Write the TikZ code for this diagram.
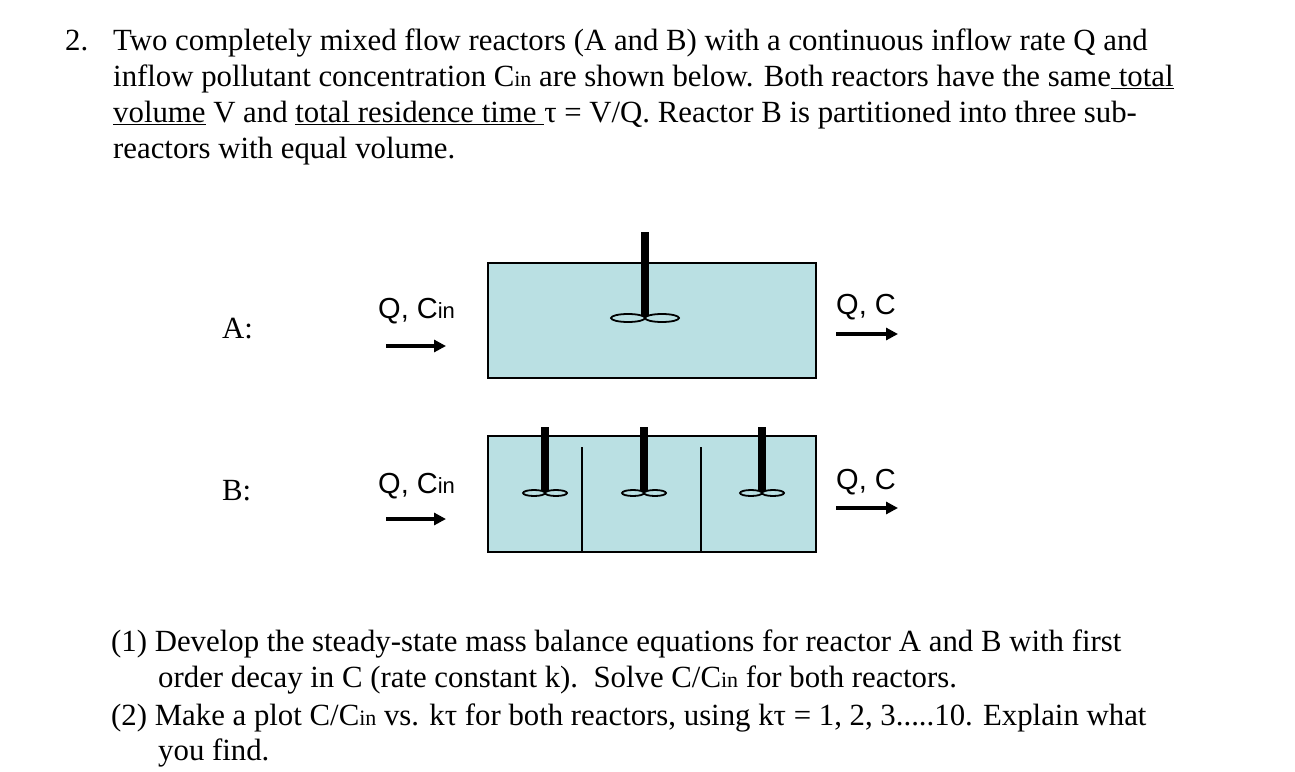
\documentclass[tikz,border=0pt]{standalone}
\usepackage{fontspec}
\setmainfont{Liberation Serif}
\newfontfamily\arialf{Liberation Sans}
\usetikzlibrary{arrows.meta}
\newcommand{\ssin}{{\fontsize{22}{22}\selectfont in}}
\newcommand{\asin}{{\fontsize{22}{22}\selectfont in}}
\begin{document}
\begin{tikzpicture}[x=1pt,y=-1pt,
  txt/.style={anchor=base west,inner sep=0pt,font=\fontsize{30.8}{36}\selectfont},
  lab/.style={anchor=base west,inner sep=0pt,font=\arialf\fontsize{29}{34}\selectfont},
  tank/.style={draw=black,line width=2.5pt,fill={rgb,255:red,186;green,224;blue,227}},
  shaft/.style={line width=8pt},
  blade/.style={draw=black,line width=1.8pt,fill={rgb,255:red,186;green,224;blue,227}},
  flow/.style={line width=3.5pt,-{Triangle[length=12pt,width=12pt]}}]
\useasboundingbox (0,0) rectangle (1295,771);
% text
\node[txt] (n2) at (65,50) {2.};
\node[txt] (l1) at (113,50) {Two completely mixed flow reactors (A and B) with a continuous inflow rate Q and};
\node[txt] (l2) at (113,86) {inflow pollutant concentration C\ssin{} are shown below. Both reactors have the same\underline{ total}};
\node[txt] (l3) at (113,122) {\underline{volume} V and \underline{total residence time }τ = V/Q. Reactor B is partitioned into three sub-};
\node[txt] (l4) at (113,158) {reactors with equal volume.};
\node[txt] (q1) at (111,651) {(1) Develop the steady-state mass balance equations for reactor A and B with first};
\node[txt] (q1b) at (158,687) {order decay in C (rate constant k).\ \ Solve C/C\ssin{} for both reactors.};
\node[txt] (q2) at (111,725) {(2) Make a plot C/C\ssin{} vs. kτ for both reactors, using kτ = 1, 2, 3.....10. Explain what};
\node[txt] (q2b) at (158,760) {you find.};
\node[txt] (la) at (222,338) {A:};
\node[txt] (lb) at (222,500) {B:};
% tank A
\draw[tank] (488,263) rectangle (816,378);
\draw[shaft] (645,232) -- (645,318);
\draw[blade] (628,318) ellipse (17 and 4);
\draw[blade] (662,318) ellipse (17 and 4);
% tank B
\draw[tank] (488,436) rectangle (816,552);
\draw[line width=1.3pt] (582,447) -- (582,552);
\draw[line width=1.3pt] (701,447) -- (701,552);
\foreach \x in {545,644,762}{
  \draw[shaft] (\x,427) -- (\x,493);
  \draw[blade] (\x-11,493) ellipse (11 and 3);
  \draw[blade] (\x+11,493) ellipse (11 and 3);
}
% labels and arrows
\node[lab] (qa) at (378,318) {Q, C\asin};
\coordinate (a1) at (386,346); \coordinate (a2) at (446,346);
\draw[flow] (a1) -- (a2);
\node[lab] (qca) at (836,314) {Q, C};
\coordinate (a3) at (836,334); \coordinate (a4) at (898,334);
\draw[flow] (a3) -- (a4);
\node[lab] (qb) at (378,493) {Q, C\asin};
\coordinate (b1) at (386,519); \coordinate (b2) at (446,519);
\draw[flow] (b1) -- (b2);
\node[lab] (qcb) at (836,489) {Q, C};
\coordinate (b3) at (836,508); \coordinate (b4) at (898,508);
\draw[flow] (b3) -- (b4);
\end{tikzpicture}
\end{document}
